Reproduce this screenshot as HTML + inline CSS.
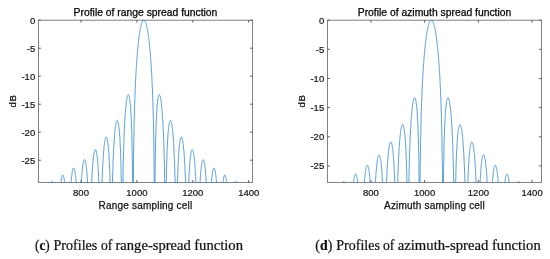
<!DOCTYPE html>
<html><head><meta charset="utf-8"><title>Spread function profiles</title>
<style>
html,body{margin:0;padding:0;background:#fff;}
svg{display:block}
.t{font-family:"Liberation Sans",Arial,sans-serif;font-size:9.5px;fill:#111;stroke:#111;stroke-width:0.2px}
.l{font-family:"Liberation Sans",Arial,sans-serif;font-size:10px;letter-spacing:0.2px;fill:#111;stroke:#111;stroke-width:0.25px}
.ti{font-family:"Liberation Sans",Arial,sans-serif;font-size:10.35px;fill:#000;stroke:#000;stroke-width:0.25px}
.c{font-family:"Liberation Serif","DejaVu Serif",serif;font-size:13.8px;fill:#111;stroke:#111;stroke-width:0.22px}
.c tspan{font-weight:bold}
</style></head><body>
<svg width="550" height="259" viewBox="0 0 550 259">
<rect width="550" height="259" fill="#fff"/>
<clipPath id="cp38"><rect x="38.5" y="19.2" width="214.0" height="163.7"/></clipPath>
<rect x="38.5" y="20.2" width="214.0" height="162.3" fill="none" stroke="#747474" stroke-width="0.9"/>
<text transform="translate(81.0,195.8) scale(1,1.04)" text-anchor="middle" class="t">800</text>
<text transform="translate(136.9,195.8) scale(1,1.04)" text-anchor="middle" class="t">1000</text>
<text transform="translate(192.8,195.8) scale(1,1.04)" text-anchor="middle" class="t">1200</text>
<text transform="translate(248.7,195.8) scale(1,1.04)" text-anchor="middle" class="t">1400</text>
<text transform="translate(35.2,23.7) scale(1,1.04)" text-anchor="end" class="t">0</text>
<text transform="translate(35.2,51.7) scale(1,1.04)" text-anchor="end" class="t">-5</text>
<text transform="translate(35.2,79.7) scale(1,1.04)" text-anchor="end" class="t">-10</text>
<text transform="translate(35.2,107.7) scale(1,1.04)" text-anchor="end" class="t">-15</text>
<text transform="translate(35.2,135.7) scale(1,1.04)" text-anchor="end" class="t">-20</text>
<text transform="translate(35.2,163.7) scale(1,1.04)" text-anchor="end" class="t">-25</text>
<path d="M81.0,182.5 v-2.3 M81.0,20.2 v2.3 M136.9,182.5 v-2.3 M136.9,20.2 v2.3 M192.8,182.5 v-2.3 M192.8,20.2 v2.3 M248.7,182.5 v-2.3 M248.7,20.2 v2.3 M38.5,20.2 h2.3 M252.5,20.2 h-2.3 M38.5,48.2 h2.3 M252.5,48.2 h-2.3 M38.5,76.2 h2.3 M252.5,76.2 h-2.3 M38.5,104.2 h2.3 M252.5,104.2 h-2.3 M38.5,132.2 h2.3 M252.5,132.2 h-2.3 M38.5,160.2 h2.3 M252.5,160.2 h-2.3" fill="none" stroke="#555" stroke-width="1"/>
<path d="M38.5,188.5 L38.6,188.5 L38.8,188.5 L38.9,188.5 L39.0,188.5 L39.1,188.5 L39.2,188.5 L39.4,188.5 L39.5,188.5 L39.6,188.5 L39.8,188.5 L39.9,188.5 L40.0,188.5 L40.1,188.5 L40.2,188.5 L40.4,188.1 L40.5,187.8 L40.6,187.5 L40.8,187.2 L40.9,187.1 L41.0,187.0 L41.1,187.0 L41.2,187.0 L41.4,187.1 L41.5,187.2 L41.6,187.5 L41.8,187.8 L41.9,188.1 L42.0,188.5 L42.1,188.5 L42.2,188.5 L42.4,188.5 L42.5,188.5 L42.6,188.5 L42.8,188.5 L42.9,188.5 L43.0,188.5 L43.1,188.5 L43.2,188.5 L43.4,188.5 L43.5,188.5 L43.6,188.5 L43.8,188.5 L43.9,188.5 L44.0,188.5 L44.1,188.5 L44.2,188.5 L44.4,188.5 L44.5,188.5 L44.6,188.5 L44.8,188.5 L44.9,188.5 L45.0,188.5 L45.1,188.5 L45.2,188.5 L45.4,188.5 L45.5,188.5 L45.6,188.5 L45.8,188.5 L45.9,188.5 L46.0,188.5 L46.1,188.5 L46.2,188.5 L46.4,188.5 L46.5,188.5 L46.6,188.5 L46.8,188.5 L46.9,188.5 L47.0,188.5 L47.1,188.5 L47.2,188.5 L47.4,188.5 L47.5,188.5 L47.6,188.5 L47.8,188.5 L47.9,188.5 L48.0,188.5 L48.1,188.5 L48.2,188.5 L48.4,188.5 L48.5,188.5 L48.6,188.5 L48.8,188.5 L48.9,188.5 L49.0,188.5 L49.1,188.5 L49.2,188.5 L49.4,188.5 L49.5,188.5 L49.6,188.5 L49.8,188.5 L49.9,188.5 L50.0,188.5 L50.1,188.5 L50.2,187.6 L50.4,186.7 L50.5,185.8 L50.6,185.1 L50.8,184.4 L50.9,183.8 L51.0,183.3 L51.1,182.8 L51.2,182.4 L51.4,182.1 L51.5,181.8 L51.6,181.6 L51.8,181.5 L51.9,181.4 L52.0,181.4 L52.1,181.4 L52.2,181.5 L52.4,181.7 L52.5,182.0 L52.6,182.3 L52.8,182.7 L52.9,183.1 L53.0,183.6 L53.1,184.2 L53.2,184.9 L53.4,185.6 L53.5,186.4 L53.6,187.3 L53.8,188.3 L53.9,188.5 L54.0,188.5 L54.1,188.5 L54.2,188.5 L54.4,188.5 L54.5,188.5 L54.6,188.5 L54.8,188.5 L54.9,188.5 L55.0,188.5 L55.1,188.5 L55.2,188.5 L55.4,188.5 L55.5,188.5 L55.6,188.5 L55.8,188.5 L55.9,188.5 L56.0,188.5 L56.1,188.5 L56.2,188.5 L56.4,188.5 L56.5,188.5 L56.6,188.5 L56.8,188.5 L56.9,188.5 L57.0,188.5 L57.1,188.5 L57.2,188.5 L57.4,188.5 L57.5,188.5 L57.6,188.5 L57.8,188.5 L57.9,188.5 L58.0,188.5 L58.1,188.5 L58.2,188.5 L58.4,188.5 L58.5,188.5 L58.6,188.5 L58.8,188.5 L58.9,188.5 L59.0,188.5 L59.1,188.5 L59.2,188.5 L59.4,188.5 L59.5,188.5 L59.6,188.5 L59.8,188.5 L59.9,188.5 L60.0,188.5 L60.1,188.5 L60.2,188.5 L60.4,188.0 L60.5,186.6 L60.6,185.3 L60.8,184.1 L60.9,183.0 L61.0,182.0 L61.1,181.0 L61.2,180.1 L61.4,179.3 L61.5,178.6 L61.6,178.0 L61.8,177.4 L61.9,176.9 L62.0,176.4 L62.1,176.0 L62.2,175.7 L62.4,175.5 L62.5,175.3 L62.6,175.2 L62.8,175.1 L62.9,175.1 L63.0,175.2 L63.1,175.3 L63.2,175.5 L63.4,175.8 L63.5,176.1 L63.6,176.5 L63.8,177.0 L63.9,177.5 L64.0,178.1 L64.1,178.8 L64.2,179.6 L64.4,180.5 L64.5,181.4 L64.6,182.4 L64.8,183.5 L64.9,184.7 L65.0,186.0 L65.1,187.4 L65.2,188.5 L65.4,188.5 L65.5,188.5 L65.6,188.5 L65.8,188.5 L65.9,188.5 L66.0,188.5 L66.1,188.5 L66.2,188.5 L66.4,188.5 L66.5,188.5 L66.6,188.5 L66.8,188.5 L66.9,188.5 L67.0,188.5 L67.1,188.5 L67.2,188.5 L67.4,188.5 L67.5,188.5 L67.6,188.5 L67.8,188.5 L67.9,188.5 L68.0,188.5 L68.1,188.5 L68.2,188.5 L68.4,188.5 L68.5,188.5 L68.6,188.5 L68.8,188.5 L68.9,188.5 L69.0,188.5 L69.1,188.5 L69.2,188.5 L69.4,188.5 L69.5,188.5 L69.6,188.5 L69.8,188.5 L69.9,188.5 L70.0,188.5 L70.1,188.5 L70.2,188.5 L70.4,188.5 L70.5,188.5 L70.6,188.5 L70.8,187.0 L70.9,185.2 L71.0,183.5 L71.1,181.9 L71.2,180.5 L71.4,179.1 L71.5,177.8 L71.6,176.6 L71.8,175.6 L71.9,174.5 L72.0,173.6 L72.1,172.8 L72.2,172.0 L72.4,171.3 L72.5,170.7 L72.6,170.1 L72.8,169.6 L72.9,169.2 L73.0,168.8 L73.1,168.5 L73.2,168.3 L73.4,168.1 L73.5,168.0 L73.6,168.0 L73.8,168.0 L73.9,168.1 L74.0,168.2 L74.1,168.4 L74.2,168.7 L74.4,169.1 L74.5,169.5 L74.6,170.0 L74.8,170.5 L74.9,171.2 L75.0,171.9 L75.1,172.7 L75.2,173.6 L75.4,174.5 L75.5,175.6 L75.6,176.7 L75.8,177.9 L75.9,179.3 L76.0,180.7 L76.1,182.3 L76.2,184.0 L76.4,185.8 L76.5,187.7 L76.6,188.5 L76.8,188.5 L76.9,188.5 L77.0,188.5 L77.1,188.5 L77.2,188.5 L77.4,188.5 L77.5,188.5 L77.6,188.5 L77.8,188.5 L77.9,188.5 L78.0,188.5 L78.1,188.5 L78.2,188.5 L78.4,188.5 L78.5,188.5 L78.6,188.5 L78.8,188.5 L78.9,188.5 L79.0,188.5 L79.1,188.5 L79.2,188.5 L79.4,188.5 L79.5,188.5 L79.6,188.5 L79.8,188.5 L79.9,188.5 L80.0,188.5 L80.1,188.5 L80.2,188.5 L80.4,188.5 L80.5,188.5 L80.6,188.5 L80.8,188.5 L80.9,188.5 L81.0,188.5 L81.1,186.6 L81.2,184.3 L81.4,182.1 L81.5,180.1 L81.6,178.2 L81.8,176.4 L81.9,174.8 L82.0,173.2 L82.1,171.8 L82.2,170.5 L82.4,169.2 L82.5,168.1 L82.6,167.0 L82.8,166.0 L82.9,165.1 L83.0,164.3 L83.1,163.5 L83.2,162.8 L83.4,162.2 L83.5,161.7 L83.6,161.2 L83.8,160.8 L83.9,160.4 L84.0,160.1 L84.1,159.9 L84.2,159.8 L84.4,159.7 L84.5,159.6 L84.6,159.7 L84.8,159.8 L84.9,159.9 L85.0,160.2 L85.1,160.5 L85.2,160.8 L85.4,161.3 L85.5,161.8 L85.6,162.4 L85.8,163.0 L85.9,163.7 L86.0,164.5 L86.1,165.4 L86.2,166.4 L86.4,167.5 L86.5,168.6 L86.6,169.9 L86.8,171.3 L86.9,172.7 L87.0,174.3 L87.1,176.1 L87.2,177.9 L87.4,180.0 L87.5,182.1 L87.6,184.5 L87.8,187.1 L87.9,188.5 L88.0,188.5 L88.1,188.5 L88.2,188.5 L88.4,188.5 L88.5,188.5 L88.6,188.5 L88.8,188.5 L88.9,188.5 L89.0,188.5 L89.1,188.5 L89.2,188.5 L89.4,188.5 L89.5,188.5 L89.6,188.5 L89.8,188.5 L89.9,188.5 L90.0,188.5 L90.1,188.5 L90.2,188.5 L90.4,188.5 L90.5,188.5 L90.6,188.5 L90.8,188.5 L90.9,188.5 L91.0,188.5 L91.1,188.5 L91.2,188.5 L91.4,188.5 L91.5,187.1 L91.6,184.1 L91.8,181.2 L91.9,178.6 L92.0,176.2 L92.1,173.9 L92.2,171.8 L92.4,169.8 L92.5,167.9 L92.6,166.2 L92.8,164.6 L92.9,163.1 L93.0,161.7 L93.1,160.3 L93.2,159.1 L93.4,158.0 L93.5,156.9 L93.6,155.9 L93.8,155.1 L93.9,154.2 L94.0,153.5 L94.1,152.8 L94.2,152.2 L94.4,151.7 L94.5,151.2 L94.6,150.8 L94.8,150.4 L94.9,150.1 L95.0,149.9 L95.1,149.8 L95.2,149.7 L95.4,149.7 L95.5,149.7 L95.6,149.8 L95.8,150.0 L95.9,150.2 L96.0,150.5 L96.1,150.9 L96.2,151.3 L96.4,151.9 L96.5,152.4 L96.6,153.1 L96.8,153.8 L96.9,154.7 L97.0,155.6 L97.1,156.6 L97.2,157.6 L97.4,158.8 L97.5,160.1 L97.6,161.5 L97.8,163.0 L97.9,164.6 L98.0,166.4 L98.1,168.3 L98.2,170.4 L98.4,172.6 L98.5,175.0 L98.6,177.6 L98.8,180.5 L98.9,183.6 L99.0,187.1 L99.1,188.5 L99.2,188.5 L99.4,188.5 L99.5,188.5 L99.6,188.5 L99.8,188.5 L99.9,188.5 L100.0,188.5 L100.1,188.5 L100.2,188.5 L100.4,188.5 L100.5,188.5 L100.6,188.5 L100.8,188.5 L100.9,188.5 L101.0,188.5 L101.1,188.5 L101.2,188.5 L101.4,188.5 L101.5,188.5 L101.6,188.5 L101.8,188.5 L101.9,188.5 L102.0,184.9 L102.1,181.0 L102.2,177.5 L102.4,174.3 L102.5,171.3 L102.6,168.5 L102.8,166.0 L102.9,163.6 L103.0,161.3 L103.1,159.2 L103.2,157.3 L103.4,155.4 L103.5,153.7 L103.6,152.1 L103.8,150.6 L103.9,149.2 L104.0,147.9 L104.1,146.7 L104.2,145.6 L104.4,144.5 L104.5,143.5 L104.6,142.7 L104.8,141.8 L104.9,141.1 L105.0,140.4 L105.1,139.8 L105.2,139.2 L105.4,138.8 L105.5,138.3 L105.6,138.0 L105.8,137.7 L105.9,137.5 L106.0,137.3 L106.1,137.2 L106.2,137.2 L106.4,137.2 L106.5,137.3 L106.6,137.5 L106.8,137.7 L106.9,138.0 L107.0,138.4 L107.1,138.8 L107.2,139.3 L107.4,139.9 L107.5,140.6 L107.6,141.3 L107.8,142.1 L107.9,143.0 L108.0,144.0 L108.1,145.1 L108.2,146.3 L108.4,147.6 L108.5,149.0 L108.6,150.5 L108.8,152.1 L108.9,153.9 L109.0,155.8 L109.1,157.9 L109.2,160.2 L109.4,162.7 L109.5,165.4 L109.6,168.3 L109.8,171.5 L109.9,175.0 L110.0,179.0 L110.1,183.3 L110.2,188.2 L110.4,188.5 L110.5,188.5 L110.6,188.5 L110.8,188.5 L110.9,188.5 L111.0,188.5 L111.1,188.5 L111.2,188.5 L111.4,188.5 L111.5,188.5 L111.6,188.5 L111.8,188.5 L111.9,188.5 L112.0,188.5 L112.1,188.5 L112.2,188.5 L112.4,187.4 L112.5,181.9 L112.6,176.9 L112.8,172.4 L112.9,168.4 L113.0,164.6 L113.1,161.2 L113.2,158.0 L113.4,155.1 L113.5,152.4 L113.6,149.8 L113.8,147.4 L113.9,145.2 L114.0,143.1 L114.1,141.2 L114.2,139.3 L114.4,137.6 L114.5,136.0 L114.6,134.5 L114.8,133.1 L114.9,131.8 L115.0,130.5 L115.1,129.4 L115.2,128.3 L115.4,127.3 L115.5,126.4 L115.6,125.5 L115.8,124.7 L115.9,124.0 L116.0,123.4 L116.1,122.8 L116.2,122.3 L116.4,121.8 L116.5,121.4 L116.6,121.1 L116.8,120.9 L116.9,120.7 L117.0,120.5 L117.1,120.5 L117.2,120.5 L117.4,120.5 L117.5,120.7 L117.6,120.8 L117.8,121.1 L117.9,121.4 L118.0,121.8 L118.1,122.3 L118.2,122.8 L118.4,123.5 L118.5,124.2 L118.6,124.9 L118.8,125.8 L118.9,126.8 L119.0,127.8 L119.1,129.0 L119.2,130.2 L119.4,131.6 L119.5,133.1 L119.6,134.7 L119.8,136.5 L119.9,138.4 L120.0,140.5 L120.1,142.8 L120.2,145.3 L120.4,148.0 L120.5,151.0 L120.6,154.2 L120.8,157.8 L120.9,161.8 L121.0,166.3 L121.1,171.4 L121.2,177.3 L121.4,184.0 L121.5,188.5 L121.6,188.5 L121.8,188.5 L121.9,188.5 L122.0,188.5 L122.1,188.5 L122.2,188.5 L122.4,188.5 L122.5,188.5 L122.6,188.5 L122.8,188.5 L122.9,185.1 L123.0,177.1 L123.1,170.2 L123.2,164.2 L123.4,158.8 L123.5,154.0 L123.6,149.6 L123.8,145.5 L123.9,141.8 L124.0,138.4 L124.1,135.2 L124.2,132.3 L124.4,129.5 L124.5,126.9 L124.6,124.5 L124.8,122.2 L124.9,120.1 L125.0,118.1 L125.1,116.2 L125.2,114.4 L125.4,112.7 L125.5,111.1 L125.6,109.6 L125.8,108.2 L125.9,106.9 L126.0,105.6 L126.1,104.4 L126.2,103.3 L126.4,102.3 L126.5,101.4 L126.6,100.5 L126.8,99.7 L126.9,98.9 L127.0,98.2 L127.1,97.6 L127.2,97.0 L127.4,96.5 L127.5,96.1 L127.6,95.7 L127.8,95.4 L127.9,95.1 L128.0,94.9 L128.1,94.8 L128.2,94.7 L128.4,94.7 L128.5,94.8 L128.6,94.9 L128.8,95.1 L128.9,95.3 L129.0,95.7 L129.1,96.1 L129.2,96.5 L129.4,97.1 L129.5,97.7 L129.6,98.5 L129.8,99.3 L129.9,100.2 L130.0,101.2 L130.1,102.3 L130.2,103.5 L130.4,104.9 L130.5,106.4 L130.6,108.0 L130.8,109.8 L130.9,111.7 L131.0,113.9 L131.1,116.2 L131.2,118.8 L131.4,121.7 L131.5,124.9 L131.6,128.4 L131.8,132.4 L131.9,136.9 L132.0,142.1 L132.1,148.0 L132.2,155.1 L132.4,163.6 L132.5,174.2 L132.6,188.2 L132.8,188.5 L132.9,188.5 L133.0,188.5 L133.1,188.5 L133.2,188.5 L133.4,179.7 L133.5,165.8 L133.6,154.8 L133.8,145.7 L133.9,137.9 L134.0,131.1 L134.1,125.1 L134.2,119.6 L134.4,114.6 L134.5,110.0 L134.6,105.8 L134.8,101.9 L134.9,98.2 L135.0,94.7 L135.1,91.5 L135.2,88.4 L135.4,85.5 L135.5,82.7 L135.6,80.1 L135.8,77.6 L135.9,75.2 L136.0,72.9 L136.1,70.7 L136.2,68.6 L136.4,66.5 L136.5,64.6 L136.6,62.7 L136.8,60.9 L136.9,59.1 L137.0,57.5 L137.1,55.8 L137.2,54.3 L137.4,52.8 L137.5,51.3 L137.6,49.9 L137.8,48.5 L137.9,47.2 L138.0,46.0 L138.1,44.7 L138.2,43.5 L138.4,42.4 L138.5,41.3 L138.6,40.2 L138.8,39.2 L138.9,38.2 L139.0,37.2 L139.1,36.3 L139.2,35.3 L139.4,34.5 L139.5,33.6 L139.6,32.8 L139.8,32.0 L139.9,31.3 L140.0,30.6 L140.1,29.9 L140.2,29.2 L140.4,28.6 L140.5,27.9 L140.6,27.3 L140.8,26.8 L140.9,26.2 L141.0,25.7 L141.1,25.2 L141.2,24.8 L141.4,24.3 L141.5,23.9 L141.6,23.5 L141.8,23.1 L141.9,22.8 L142.0,22.5 L142.1,22.2 L142.2,21.9 L142.4,21.6 L142.5,21.4 L142.6,21.2 L142.8,21.0 L142.9,20.8 L143.0,20.7 L143.1,20.5 L143.2,20.4 L143.4,20.3 L143.5,20.3 L143.6,20.2 L143.8,20.2 L143.9,20.2 L144.0,20.2 L144.1,20.3 L144.2,20.3 L144.4,20.4 L144.5,20.5 L144.6,20.7 L144.8,20.8 L144.9,21.0 L145.0,21.2 L145.1,21.4 L145.2,21.7 L145.4,21.9 L145.5,22.2 L145.6,22.5 L145.8,22.9 L145.9,23.2 L146.0,23.6 L146.1,24.0 L146.2,24.4 L146.4,24.9 L146.5,25.3 L146.6,25.8 L146.8,26.3 L146.9,26.9 L147.0,27.5 L147.1,28.1 L147.2,28.7 L147.4,29.3 L147.5,30.0 L147.6,30.7 L147.8,31.4 L147.9,32.2 L148.0,33.0 L148.1,33.8 L148.2,34.6 L148.4,35.5 L148.5,36.4 L148.6,37.4 L148.8,38.4 L148.9,39.4 L149.0,40.4 L149.1,41.5 L149.2,42.6 L149.4,43.8 L149.5,45.0 L149.6,46.2 L149.8,47.5 L149.9,48.8 L150.0,50.2 L150.1,51.6 L150.2,53.1 L150.4,54.6 L150.5,56.2 L150.6,57.8 L150.8,59.5 L150.9,61.2 L151.0,63.1 L151.1,65.0 L151.2,66.9 L151.4,69.0 L151.5,71.1 L151.6,73.3 L151.8,75.6 L151.9,78.1 L152.0,80.6 L152.1,83.3 L152.2,86.1 L152.4,89.0 L152.5,92.1 L152.6,95.4 L152.8,98.9 L152.9,102.6 L153.0,106.6 L153.1,110.9 L153.2,115.6 L153.4,120.6 L153.5,126.2 L153.6,132.4 L153.8,139.4 L153.9,147.4 L154.0,156.8 L154.1,168.3 L154.2,183.0 L154.4,188.5 L154.5,188.5 L154.6,188.5 L154.8,188.5 L154.9,188.5 L155.0,185.0 L155.1,171.8 L155.2,161.7 L155.4,153.6 L155.5,146.8 L155.6,141.0 L155.8,136.0 L155.9,131.6 L156.0,127.7 L156.1,124.2 L156.2,121.1 L156.4,118.3 L156.5,115.8 L156.6,113.4 L156.8,111.3 L156.9,109.4 L157.0,107.7 L157.1,106.1 L157.2,104.6 L157.4,103.3 L157.5,102.1 L157.6,101.0 L157.8,100.0 L157.9,99.1 L158.0,98.3 L158.1,97.6 L158.2,97.0 L158.4,96.4 L158.5,96.0 L158.6,95.6 L158.8,95.3 L158.9,95.0 L159.0,94.9 L159.1,94.7 L159.2,94.7 L159.4,94.7 L159.5,94.8 L159.6,95.0 L159.8,95.2 L159.9,95.4 L160.0,95.8 L160.1,96.2 L160.2,96.6 L160.4,97.1 L160.5,97.7 L160.6,98.3 L160.8,99.0 L160.9,99.8 L161.0,100.6 L161.1,101.5 L161.2,102.5 L161.4,103.6 L161.5,104.7 L161.6,105.9 L161.8,107.1 L161.9,108.5 L162.0,109.9 L162.1,111.4 L162.2,113.0 L162.4,114.7 L162.5,116.5 L162.6,118.5 L162.8,120.5 L162.9,122.7 L163.0,125.0 L163.1,127.4 L163.2,130.1 L163.4,132.9 L163.5,135.9 L163.6,139.1 L163.8,142.5 L163.9,146.3 L164.0,150.4 L164.1,154.9 L164.2,159.8 L164.4,165.3 L164.5,171.5 L164.6,178.6 L164.8,186.9 L164.9,188.5 L165.0,188.5 L165.1,188.5 L165.2,188.5 L165.4,188.5 L165.5,188.5 L165.6,188.5 L165.8,188.5 L165.9,188.5 L166.0,188.5 L166.1,188.5 L166.2,182.6 L166.4,176.0 L166.5,170.4 L166.6,165.4 L166.8,161.0 L166.9,157.1 L167.0,153.5 L167.1,150.3 L167.2,147.4 L167.4,144.8 L167.5,142.3 L167.6,140.1 L167.8,138.0 L167.9,136.1 L168.0,134.4 L168.1,132.8 L168.2,131.3 L168.4,130.0 L168.5,128.7 L168.6,127.6 L168.8,126.6 L168.9,125.6 L169.0,124.8 L169.1,124.0 L169.2,123.3 L169.4,122.7 L169.5,122.2 L169.6,121.7 L169.8,121.4 L169.9,121.0 L170.0,120.8 L170.1,120.6 L170.2,120.5 L170.4,120.5 L170.5,120.5 L170.6,120.6 L170.8,120.7 L170.9,120.9 L171.0,121.2 L171.1,121.5 L171.2,121.9 L171.4,122.4 L171.5,122.9 L171.6,123.5 L171.8,124.2 L171.9,124.9 L172.0,125.7 L172.1,126.5 L172.2,127.5 L172.4,128.5 L172.5,129.6 L172.6,130.8 L172.8,132.0 L172.9,133.4 L173.0,134.8 L173.1,136.3 L173.2,138.0 L173.4,139.7 L173.5,141.6 L173.6,143.5 L173.8,145.6 L173.9,147.9 L174.0,150.3 L174.1,152.9 L174.2,155.7 L174.4,158.7 L174.5,161.9 L174.6,165.4 L174.8,169.2 L174.9,173.3 L175.0,177.9 L175.1,183.0 L175.2,188.5 L175.4,188.5 L175.5,188.5 L175.6,188.5 L175.8,188.5 L175.9,188.5 L176.0,188.5 L176.1,188.5 L176.2,188.5 L176.4,188.5 L176.5,188.5 L176.6,188.5 L176.8,188.5 L176.9,188.5 L177.0,188.5 L177.1,188.5 L177.2,188.5 L177.4,187.2 L177.5,182.4 L177.6,178.1 L177.8,174.3 L177.9,170.8 L178.0,167.7 L178.1,164.8 L178.2,162.2 L178.4,159.7 L178.5,157.5 L178.6,155.4 L178.8,153.5 L178.9,151.8 L179.0,150.2 L179.1,148.7 L179.2,147.3 L179.4,146.0 L179.5,144.9 L179.6,143.8 L179.8,142.8 L179.9,141.9 L180.0,141.1 L180.1,140.4 L180.2,139.8 L180.4,139.2 L180.5,138.7 L180.6,138.3 L180.8,138.0 L180.9,137.7 L181.0,137.5 L181.1,137.3 L181.2,137.2 L181.4,137.2 L181.5,137.2 L181.6,137.4 L181.8,137.5 L181.9,137.8 L182.0,138.1 L182.1,138.4 L182.2,138.8 L182.4,139.3 L182.5,139.9 L182.6,140.5 L182.8,141.2 L182.9,142.0 L183.0,142.8 L183.1,143.7 L183.2,144.7 L183.4,145.8 L183.5,146.9 L183.6,148.2 L183.8,149.5 L183.9,150.9 L184.0,152.4 L184.1,154.1 L184.2,155.8 L184.4,157.7 L184.5,159.6 L184.6,161.8 L184.8,164.0 L184.9,166.5 L185.0,169.1 L185.1,171.9 L185.2,174.9 L185.4,178.2 L185.5,181.8 L185.6,185.7 L185.8,188.5 L185.9,188.5 L186.0,188.5 L186.1,188.5 L186.2,188.5 L186.4,188.5 L186.5,188.5 L186.6,188.5 L186.8,188.5 L186.9,188.5 L187.0,188.5 L187.1,188.5 L187.2,188.5 L187.4,188.5 L187.5,188.5 L187.6,188.5 L187.8,188.5 L187.9,188.5 L188.0,188.5 L188.1,188.5 L188.2,188.5 L188.4,188.5 L188.5,188.5 L188.6,186.3 L188.8,183.0 L188.9,179.9 L189.0,177.1 L189.1,174.5 L189.2,172.1 L189.4,169.9 L189.5,167.9 L189.6,166.0 L189.8,164.3 L189.9,162.7 L190.0,161.2 L190.1,159.8 L190.2,158.6 L190.4,157.4 L190.5,156.4 L190.6,155.4 L190.8,154.5 L190.9,153.7 L191.0,153.0 L191.1,152.3 L191.2,151.7 L191.4,151.2 L191.5,150.8 L191.6,150.5 L191.8,150.2 L191.9,149.9 L192.0,149.8 L192.1,149.7 L192.2,149.7 L192.4,149.7 L192.5,149.8 L192.6,150.0 L192.8,150.2 L192.9,150.5 L193.0,150.8 L193.1,151.3 L193.2,151.8 L193.4,152.3 L193.5,152.9 L193.6,153.6 L193.8,154.4 L193.9,155.2 L194.0,156.1 L194.1,157.1 L194.2,158.2 L194.4,159.4 L194.5,160.6 L194.6,161.9 L194.8,163.4 L194.9,164.9 L195.0,166.5 L195.1,168.3 L195.2,170.2 L195.4,172.2 L195.5,174.3 L195.6,176.6 L195.8,179.1 L195.9,181.8 L196.0,184.7 L196.1,187.8 L196.2,188.5 L196.4,188.5 L196.5,188.5 L196.6,188.5 L196.8,188.5 L196.9,188.5 L197.0,188.5 L197.1,188.5 L197.2,188.5 L197.4,188.5 L197.5,188.5 L197.6,188.5 L197.8,188.5 L197.9,188.5 L198.0,188.5 L198.1,188.5 L198.2,188.5 L198.4,188.5 L198.5,188.5 L198.6,188.5 L198.8,188.5 L198.9,188.5 L199.0,188.5 L199.1,188.5 L199.2,188.5 L199.4,188.5 L199.5,188.5 L199.6,188.5 L199.8,188.5 L199.9,186.5 L200.0,184.0 L200.1,181.7 L200.2,179.5 L200.4,177.6 L200.5,175.7 L200.6,174.0 L200.8,172.4 L200.9,171.0 L201.0,169.6 L201.1,168.4 L201.2,167.3 L201.4,166.2 L201.5,165.2 L201.6,164.4 L201.8,163.6 L201.9,162.9 L202.0,162.2 L202.1,161.7 L202.2,161.2 L202.4,160.8 L202.5,160.4 L202.6,160.1 L202.8,159.9 L202.9,159.8 L203.0,159.7 L203.1,159.6 L203.2,159.7 L203.4,159.8 L203.5,160.0 L203.6,160.2 L203.8,160.5 L203.9,160.9 L204.0,161.3 L204.1,161.8 L204.2,162.3 L204.4,163.0 L204.5,163.7 L204.6,164.4 L204.8,165.3 L204.9,166.2 L205.0,167.2 L205.1,168.3 L205.2,169.5 L205.4,170.7 L205.5,172.1 L205.6,173.5 L205.8,175.1 L205.9,176.8 L206.0,178.6 L206.1,180.5 L206.2,182.5 L206.4,184.7 L206.5,187.1 L206.6,188.5 L206.8,188.5 L206.9,188.5 L207.0,188.5 L207.1,188.5 L207.2,188.5 L207.4,188.5 L207.5,188.5 L207.6,188.5 L207.8,188.5 L207.9,188.5 L208.0,188.5 L208.1,188.5 L208.2,188.5 L208.4,188.5 L208.5,188.5 L208.6,188.5 L208.8,188.5 L208.9,188.5 L209.0,188.5 L209.1,188.5 L209.2,188.5 L209.4,188.5 L209.5,188.5 L209.6,188.5 L209.8,188.5 L209.9,188.5 L210.0,188.5 L210.1,188.5 L210.2,188.5 L210.4,188.5 L210.5,188.5 L210.6,188.5 L210.8,188.5 L210.9,188.5 L211.0,188.5 L211.1,187.3 L211.2,185.4 L211.4,183.6 L211.5,181.9 L211.6,180.4 L211.8,179.0 L211.9,177.7 L212.0,176.5 L212.1,175.3 L212.2,174.3 L212.4,173.4 L212.5,172.5 L212.6,171.7 L212.8,171.0 L212.9,170.4 L213.0,169.9 L213.1,169.4 L213.2,169.0 L213.4,168.7 L213.5,168.4 L213.6,168.2 L213.8,168.0 L213.9,168.0 L214.0,168.0 L214.1,168.0 L214.2,168.1 L214.4,168.3 L214.5,168.6 L214.6,168.9 L214.8,169.2 L214.9,169.7 L215.0,170.2 L215.1,170.8 L215.2,171.4 L215.4,172.1 L215.5,172.9 L215.6,173.8 L215.8,174.7 L215.9,175.8 L216.0,176.9 L216.1,178.1 L216.2,179.4 L216.4,180.7 L216.5,182.2 L216.6,183.8 L216.8,185.5 L216.9,187.4 L217.0,188.5 L217.1,188.5 L217.2,188.5 L217.4,188.5 L217.5,188.5 L217.6,188.5 L217.8,188.5 L217.9,188.5 L218.0,188.5 L218.1,188.5 L218.2,188.5 L218.4,188.5 L218.5,188.5 L218.6,188.5 L218.8,188.5 L218.9,188.5 L219.0,188.5 L219.1,188.5 L219.2,188.5 L219.4,188.5 L219.5,188.5 L219.6,188.5 L219.8,188.5 L219.9,188.5 L220.0,188.5 L220.1,188.5 L220.2,188.5 L220.4,188.5 L220.5,188.5 L220.6,188.5 L220.8,188.5 L220.9,188.5 L221.0,188.5 L221.1,188.5 L221.2,188.5 L221.4,188.5 L221.5,188.5 L221.6,188.5 L221.8,188.5 L221.9,188.5 L222.0,188.5 L222.1,188.5 L222.2,188.5 L222.4,188.5 L222.5,187.1 L222.6,185.7 L222.8,184.5 L222.9,183.3 L223.0,182.2 L223.1,181.2 L223.2,180.3 L223.4,179.4 L223.5,178.7 L223.6,178.0 L223.8,177.4 L223.9,176.9 L224.0,176.4 L224.1,176.0 L224.2,175.7 L224.4,175.5 L224.5,175.3 L224.6,175.2 L224.8,175.1 L224.9,175.1 L225.0,175.2 L225.1,175.3 L225.2,175.5 L225.4,175.8 L225.5,176.1 L225.6,176.5 L225.8,177.0 L225.9,177.5 L226.0,178.1 L226.1,178.8 L226.2,179.5 L226.4,180.3 L226.5,181.2 L226.6,182.2 L226.8,183.2 L226.9,184.3 L227.0,185.6 L227.1,186.9 L227.2,188.3 L227.4,188.5 L227.5,188.5 L227.6,188.5 L227.8,188.5 L227.9,188.5 L228.0,188.5 L228.1,188.5 L228.2,188.5 L228.4,188.5 L228.5,188.5 L228.6,188.5 L228.8,188.5 L228.9,188.5 L229.0,188.5 L229.1,188.5 L229.2,188.5 L229.4,188.5 L229.5,188.5 L229.6,188.5 L229.8,188.5 L229.9,188.5 L230.0,188.5 L230.1,188.5 L230.2,188.5 L230.4,188.5 L230.5,188.5 L230.6,188.5 L230.8,188.5 L230.9,188.5 L231.0,188.5 L231.1,188.5 L231.2,188.5 L231.4,188.5 L231.5,188.5 L231.6,188.5 L231.8,188.5 L231.9,188.5 L232.0,188.5 L232.1,188.5 L232.2,188.5 L232.4,188.5 L232.5,188.5 L232.6,188.5 L232.8,188.5 L232.9,188.5 L233.0,188.5 L233.1,188.5 L233.2,188.5 L233.4,188.5 L233.5,188.5 L233.6,188.5 L233.8,188.5 L233.9,188.1 L234.0,187.2 L234.1,186.3 L234.2,185.5 L234.4,184.7 L234.5,184.1 L234.6,183.5 L234.8,183.0 L234.9,182.6 L235.0,182.2 L235.1,181.9 L235.2,181.7 L235.4,181.5 L235.5,181.4 L235.6,181.4 L235.8,181.4 L235.9,181.5 L236.0,181.6 L236.1,181.9 L236.2,182.1 L236.4,182.5 L236.5,182.9 L236.6,183.4 L236.8,183.9 L236.9,184.5 L237.0,185.2 L237.1,186.0 L237.2,186.8 L237.4,187.8 L237.5,188.5 L237.6,188.5 L237.8,188.5 L237.9,188.5 L238.0,188.5 L238.1,188.5 L238.2,188.5 L238.4,188.5 L238.5,188.5 L238.6,188.5 L238.8,188.5 L238.9,188.5 L239.0,188.5 L239.1,188.5 L239.2,188.5 L239.4,188.5 L239.5,188.5 L239.6,188.5 L239.8,188.5 L239.9,188.5 L240.0,188.5 L240.1,188.5 L240.2,188.5 L240.4,188.5 L240.5,188.5 L240.6,188.5 L240.8,188.5 L240.9,188.5 L241.0,188.5 L241.1,188.5 L241.2,188.5 L241.4,188.5 L241.5,188.5 L241.6,188.5 L241.8,188.5 L241.9,188.5 L242.0,188.5 L242.1,188.5 L242.2,188.5 L242.4,188.5 L242.5,188.5 L242.6,188.5 L242.8,188.5 L242.9,188.5 L243.0,188.5 L243.1,188.5 L243.2,188.5 L243.4,188.5 L243.5,188.5 L243.6,188.5 L243.8,188.5 L243.9,188.5 L244.0,188.5 L244.1,188.5 L244.2,188.5 L244.4,188.5 L244.5,188.5 L244.6,188.5 L244.8,188.5 L244.9,188.5 L245.0,188.5 L245.1,188.5 L245.2,188.5 L245.4,188.5 L245.5,188.5 L245.6,188.4 L245.8,188.0 L245.9,187.7 L246.0,187.4 L246.1,187.2 L246.2,187.1 L246.4,187.0 L246.5,187.0 L246.6,187.0 L246.8,187.1 L246.9,187.3 L247.0,187.5 L247.1,187.8 L247.2,188.2 L247.4,188.5 L247.5,188.5 L247.6,188.5 L247.8,188.5 L247.9,188.5 L248.0,188.5 L248.1,188.5 L248.2,188.5 L248.4,188.5 L248.5,188.5 L248.6,188.5 L248.8,188.5 L248.9,188.5 L249.0,188.5 L249.1,188.5 L249.2,188.5 L249.4,188.5 L249.5,188.5 L249.6,188.5 L249.8,188.5 L249.9,188.5 L250.0,188.5 L250.1,188.5 L250.2,188.5 L250.4,188.5 L250.5,188.5 L250.6,188.5 L250.8,188.5 L250.9,188.5 L251.0,188.5 L251.1,188.5 L251.2,188.5 L251.4,188.5 L251.5,188.5 L251.6,188.5 L251.8,188.5 L251.9,188.5 L252.0,188.5 L252.1,188.5 L252.2,188.5 L252.4,188.5 L252.5,188.5" clip-path="url(#cp38)" fill="none" stroke="#2f88cf" stroke-width="0.8" stroke-linejoin="round"/>
<text x="145.5" y="15.6" text-anchor="middle" class="ti">Profile of range spread function</text>
<text x="145.5" y="209.1" text-anchor="middle" class="l">Range sampling cell</text>
<text transform="translate(16.4,101.0) rotate(-90)" text-anchor="middle" class="l" style="font-size:9.6px;letter-spacing:0.7px">dB</text>
<clipPath id="cp327"><rect x="327.5" y="19.2" width="214.0" height="163.6"/></clipPath>
<rect x="327.5" y="20.2" width="214.0" height="162.2" fill="none" stroke="#747474" stroke-width="0.9"/>
<text transform="translate(370.9,195.7) scale(1,1.04)" text-anchor="middle" class="t">800</text>
<text transform="translate(424.6,195.7) scale(1,1.04)" text-anchor="middle" class="t">1000</text>
<text transform="translate(478.4,195.7) scale(1,1.04)" text-anchor="middle" class="t">1200</text>
<text transform="translate(532.1,195.7) scale(1,1.04)" text-anchor="middle" class="t">1400</text>
<text transform="translate(324.2,23.7) scale(1,1.04)" text-anchor="end" class="t">0</text>
<text transform="translate(324.2,52.8) scale(1,1.04)" text-anchor="end" class="t">-5</text>
<text transform="translate(324.2,82.0) scale(1,1.04)" text-anchor="end" class="t">-10</text>
<text transform="translate(324.2,111.1) scale(1,1.04)" text-anchor="end" class="t">-15</text>
<text transform="translate(324.2,140.3) scale(1,1.04)" text-anchor="end" class="t">-20</text>
<text transform="translate(324.2,169.4) scale(1,1.04)" text-anchor="end" class="t">-25</text>
<path d="M370.9,182.4 v-2.3 M370.9,20.2 v2.3 M424.6,182.4 v-2.3 M424.6,20.2 v2.3 M478.4,182.4 v-2.3 M478.4,20.2 v2.3 M532.1,182.4 v-2.3 M532.1,20.2 v2.3 M327.5,20.2 h2.3 M541.5,20.2 h-2.3 M327.5,49.3 h2.3 M541.5,49.3 h-2.3 M327.5,78.5 h2.3 M541.5,78.5 h-2.3 M327.5,107.6 h2.3 M541.5,107.6 h-2.3 M327.5,136.8 h2.3 M541.5,136.8 h-2.3 M327.5,165.9 h2.3 M541.5,165.9 h-2.3" fill="none" stroke="#555" stroke-width="1"/>
<path d="M327.5,188.4 L327.6,188.4 L327.8,188.4 L327.9,188.4 L328.0,188.4 L328.1,188.4 L328.2,188.4 L328.4,188.4 L328.5,188.4 L328.6,188.4 L328.8,188.4 L328.9,188.4 L329.0,188.4 L329.1,188.4 L329.2,188.4 L329.4,188.4 L329.5,188.4 L329.6,188.4 L329.8,188.4 L329.9,188.4 L330.0,188.4 L330.1,188.4 L330.2,188.4 L330.4,188.4 L330.5,188.4 L330.6,188.4 L330.8,188.4 L330.9,188.4 L331.0,188.4 L331.1,188.4 L331.2,188.4 L331.4,188.4 L331.5,188.4 L331.6,188.4 L331.8,188.4 L331.9,188.2 L332.0,188.0 L332.1,188.0 L332.2,187.9 L332.4,188.0 L332.5,188.0 L332.6,188.2 L332.8,188.4 L332.9,188.4 L333.0,188.4 L333.1,188.4 L333.2,188.4 L333.4,188.4 L333.5,188.4 L333.6,188.4 L333.8,188.4 L333.9,188.4 L334.0,188.4 L334.1,188.4 L334.2,188.4 L334.4,188.4 L334.5,188.4 L334.6,188.4 L334.8,188.4 L334.9,188.4 L335.0,188.4 L335.1,188.4 L335.2,188.4 L335.4,188.4 L335.5,188.4 L335.6,188.4 L335.8,188.4 L335.9,188.4 L336.0,188.4 L336.1,188.4 L336.2,188.4 L336.4,188.4 L336.5,188.4 L336.6,188.4 L336.8,188.4 L336.9,188.4 L337.0,188.4 L337.1,188.4 L337.2,188.4 L337.4,188.4 L337.5,188.4 L337.6,188.4 L337.8,188.4 L337.9,188.4 L338.0,188.4 L338.1,188.4 L338.2,188.4 L338.4,188.4 L338.5,188.4 L338.6,188.4 L338.8,188.4 L338.9,188.4 L339.0,188.4 L339.1,188.4 L339.2,188.4 L339.4,188.4 L339.5,188.4 L339.6,188.4 L339.8,188.4 L339.9,188.4 L340.0,188.4 L340.1,188.4 L340.2,188.4 L340.4,188.4 L340.5,188.4 L340.6,188.4 L340.8,188.4 L340.9,188.4 L341.0,188.4 L341.1,188.4 L341.2,188.4 L341.4,188.4 L341.5,188.4 L341.6,188.4 L341.8,188.4 L341.9,188.4 L342.0,188.4 L342.1,187.6 L342.2,186.7 L342.4,186.0 L342.5,185.2 L342.6,184.6 L342.8,184.0 L342.9,183.5 L343.0,183.0 L343.1,182.6 L343.2,182.3 L343.4,182.0 L343.5,181.8 L343.6,181.6 L343.8,181.5 L343.9,181.4 L344.0,181.4 L344.1,181.5 L344.2,181.6 L344.4,181.8 L344.5,182.0 L344.6,182.3 L344.8,182.6 L344.9,183.1 L345.0,183.5 L345.1,184.1 L345.2,184.7 L345.4,185.3 L345.5,186.1 L345.6,186.9 L345.8,187.8 L345.9,188.4 L346.0,188.4 L346.1,188.4 L346.2,188.4 L346.4,188.4 L346.5,188.4 L346.6,188.4 L346.8,188.4 L346.9,188.4 L347.0,188.4 L347.1,188.4 L347.2,188.4 L347.4,188.4 L347.5,188.4 L347.6,188.4 L347.8,188.4 L347.9,188.4 L348.0,188.4 L348.1,188.4 L348.2,188.4 L348.4,188.4 L348.5,188.4 L348.6,188.4 L348.8,188.4 L348.9,188.4 L349.0,188.4 L349.1,188.4 L349.2,188.4 L349.4,188.4 L349.5,188.4 L349.6,188.4 L349.8,188.4 L349.9,188.4 L350.0,188.4 L350.1,188.4 L350.2,188.4 L350.4,188.4 L350.5,188.4 L350.6,188.4 L350.8,188.4 L350.9,188.4 L351.0,188.4 L351.1,188.4 L351.2,188.4 L351.4,188.4 L351.5,188.4 L351.6,188.4 L351.8,188.4 L351.9,188.4 L352.0,188.4 L352.1,188.4 L352.2,188.4 L352.4,188.4 L352.5,188.4 L352.6,188.4 L352.8,188.4 L352.9,188.4 L353.0,187.5 L353.1,186.2 L353.2,184.9 L353.4,183.7 L353.5,182.6 L353.6,181.6 L353.8,180.6 L353.9,179.8 L354.0,178.9 L354.1,178.2 L354.2,177.5 L354.4,176.9 L354.5,176.3 L354.6,175.8 L354.8,175.4 L354.9,175.0 L355.0,174.7 L355.1,174.4 L355.2,174.2 L355.4,174.1 L355.5,174.0 L355.6,174.0 L355.8,174.0 L355.9,174.1 L356.0,174.2 L356.1,174.4 L356.2,174.7 L356.4,175.0 L356.5,175.4 L356.6,175.8 L356.8,176.3 L356.9,176.9 L357.0,177.5 L357.1,178.2 L357.2,179.0 L357.4,179.9 L357.5,180.8 L357.6,181.8 L357.8,182.9 L357.9,184.1 L358.0,185.3 L358.1,186.7 L358.2,188.1 L358.4,188.4 L358.5,188.4 L358.6,188.4 L358.8,188.4 L358.9,188.4 L359.0,188.4 L359.1,188.4 L359.2,188.4 L359.4,188.4 L359.5,188.4 L359.6,188.4 L359.8,188.4 L359.9,188.4 L360.0,188.4 L360.1,188.4 L360.2,188.4 L360.4,188.4 L360.5,188.4 L360.6,188.4 L360.8,188.4 L360.9,188.4 L361.0,188.4 L361.1,188.4 L361.2,188.4 L361.4,188.4 L361.5,188.4 L361.6,188.4 L361.8,188.4 L361.9,188.4 L362.0,188.4 L362.1,188.4 L362.2,188.4 L362.4,188.4 L362.5,188.4 L362.6,188.4 L362.8,188.4 L362.9,188.4 L363.0,188.4 L363.1,188.4 L363.2,188.4 L363.4,188.4 L363.5,188.4 L363.6,188.4 L363.8,188.4 L363.9,188.4 L364.0,188.2 L364.1,186.3 L364.2,184.5 L364.4,182.8 L364.5,181.2 L364.6,179.7 L364.8,178.3 L364.9,177.0 L365.0,175.8 L365.1,174.6 L365.2,173.6 L365.4,172.6 L365.5,171.6 L365.6,170.8 L365.8,170.0 L365.9,169.3 L366.0,168.6 L366.1,168.0 L366.2,167.5 L366.4,167.0 L366.5,166.6 L366.6,166.2 L366.8,165.9 L366.9,165.7 L367.0,165.5 L367.1,165.4 L367.2,165.3 L367.4,165.3 L367.5,165.4 L367.6,165.5 L367.8,165.6 L367.9,165.9 L368.0,166.1 L368.1,166.5 L368.2,166.9 L368.4,167.4 L368.5,167.9 L368.6,168.5 L368.8,169.1 L368.9,169.9 L369.0,170.7 L369.1,171.6 L369.2,172.5 L369.4,173.6 L369.5,174.7 L369.6,175.9 L369.8,177.2 L369.9,178.6 L370.0,180.1 L370.1,181.8 L370.2,183.5 L370.4,185.4 L370.5,187.4 L370.6,188.4 L370.8,188.4 L370.9,188.4 L371.0,188.4 L371.1,188.4 L371.2,188.4 L371.4,188.4 L371.5,188.4 L371.6,188.4 L371.8,188.4 L371.9,188.4 L372.0,188.4 L372.1,188.4 L372.2,188.4 L372.4,188.4 L372.5,188.4 L372.6,188.4 L372.8,188.4 L372.9,188.4 L373.0,188.4 L373.1,188.4 L373.2,188.4 L373.4,188.4 L373.5,188.4 L373.6,188.4 L373.8,188.4 L373.9,188.4 L374.0,188.4 L374.1,188.4 L374.2,188.4 L374.4,188.4 L374.5,188.4 L374.6,188.4 L374.8,188.4 L374.9,188.4 L375.0,188.4 L375.1,188.4 L375.2,186.0 L375.4,183.5 L375.5,181.3 L375.6,179.2 L375.8,177.2 L375.9,175.3 L376.0,173.5 L376.1,171.9 L376.2,170.3 L376.4,168.9 L376.5,167.5 L376.6,166.2 L376.8,165.0 L376.9,163.9 L377.0,162.9 L377.1,161.9 L377.2,161.0 L377.4,160.2 L377.5,159.4 L377.6,158.7 L377.8,158.1 L377.9,157.5 L378.0,157.0 L378.1,156.5 L378.2,156.1 L378.4,155.8 L378.5,155.5 L378.6,155.3 L378.8,155.1 L378.9,155.0 L379.0,154.9 L379.1,155.0 L379.2,155.0 L379.4,155.1 L379.5,155.3 L379.6,155.5 L379.8,155.8 L379.9,156.2 L380.0,156.6 L380.1,157.1 L380.2,157.7 L380.4,158.3 L380.5,159.0 L380.6,159.7 L380.8,160.6 L380.9,161.5 L381.0,162.4 L381.1,163.5 L381.2,164.7 L381.4,165.9 L381.5,167.3 L381.6,168.7 L381.8,170.3 L381.9,172.0 L382.0,173.8 L382.1,175.7 L382.2,177.8 L382.4,180.0 L382.5,182.5 L382.6,185.1 L382.8,187.9 L382.9,188.4 L383.0,188.4 L383.1,188.4 L383.2,188.4 L383.4,188.4 L383.5,188.4 L383.6,188.4 L383.8,188.4 L383.9,188.4 L384.0,188.4 L384.1,188.4 L384.2,188.4 L384.4,188.4 L384.5,188.4 L384.6,188.4 L384.8,188.4 L384.9,188.4 L385.0,188.4 L385.1,188.4 L385.2,188.4 L385.4,188.4 L385.5,188.4 L385.6,188.4 L385.8,188.4 L385.9,188.4 L386.0,188.4 L386.1,188.4 L386.2,188.4 L386.4,186.9 L386.5,183.6 L386.6,180.5 L386.8,177.6 L386.9,174.9 L387.0,172.4 L387.1,170.0 L387.2,167.8 L387.4,165.8 L387.5,163.8 L387.6,162.0 L387.8,160.3 L387.9,158.7 L388.0,157.1 L388.1,155.7 L388.2,154.4 L388.4,153.1 L388.5,151.9 L388.6,150.8 L388.8,149.8 L388.9,148.8 L389.0,148.0 L389.1,147.1 L389.2,146.4 L389.4,145.7 L389.5,145.1 L389.6,144.5 L389.8,144.0 L389.9,143.5 L390.0,143.1 L390.1,142.8 L390.2,142.5 L390.4,142.3 L390.5,142.1 L390.6,142.0 L390.8,142.0 L390.9,142.0 L391.0,142.0 L391.1,142.2 L391.2,142.3 L391.4,142.6 L391.5,142.9 L391.6,143.2 L391.8,143.7 L391.9,144.2 L392.0,144.7 L392.1,145.3 L392.2,146.0 L392.4,146.8 L392.5,147.6 L392.6,148.6 L392.8,149.6 L392.9,150.6 L393.0,151.8 L393.1,153.1 L393.2,154.5 L393.4,156.0 L393.5,157.6 L393.6,159.3 L393.8,161.1 L393.9,163.1 L394.0,165.3 L394.1,167.6 L394.2,170.1 L394.4,172.8 L394.5,175.8 L394.6,179.0 L394.8,182.5 L394.9,186.4 L395.0,188.4 L395.1,188.4 L395.2,188.4 L395.4,188.4 L395.5,188.4 L395.6,188.4 L395.8,188.4 L395.9,188.4 L396.0,188.4 L396.1,188.4 L396.2,188.4 L396.4,188.4 L396.5,188.4 L396.6,188.4 L396.8,188.4 L396.9,188.4 L397.0,188.4 L397.1,188.4 L397.2,188.4 L397.4,188.4 L397.5,188.4 L397.6,185.2 L397.8,180.7 L397.9,176.6 L398.0,172.8 L398.1,169.3 L398.2,166.1 L398.4,163.1 L398.5,160.3 L398.6,157.6 L398.8,155.2 L398.9,152.9 L399.0,150.7 L399.1,148.7 L399.2,146.7 L399.4,144.9 L399.5,143.2 L399.6,141.6 L399.8,140.1 L399.9,138.7 L400.0,137.3 L400.1,136.1 L400.2,134.9 L400.4,133.8 L400.5,132.7 L400.6,131.8 L400.8,130.9 L400.9,130.0 L401.0,129.3 L401.1,128.5 L401.2,127.9 L401.4,127.3 L401.5,126.8 L401.6,126.3 L401.8,125.9 L401.9,125.5 L402.0,125.2 L402.1,125.0 L402.2,124.8 L402.4,124.6 L402.5,124.6 L402.6,124.5 L402.8,124.6 L402.9,124.7 L403.0,124.8 L403.1,125.0 L403.2,125.3 L403.4,125.7 L403.5,126.1 L403.6,126.5 L403.8,127.0 L403.9,127.6 L404.0,128.3 L404.1,129.1 L404.2,129.9 L404.4,130.8 L404.5,131.8 L404.6,132.8 L404.8,134.0 L404.9,135.3 L405.0,136.6 L405.1,138.1 L405.2,139.7 L405.4,141.4 L405.5,143.3 L405.6,145.3 L405.8,147.5 L405.9,149.9 L406.0,152.4 L406.1,155.2 L406.2,158.3 L406.4,161.6 L406.5,165.3 L406.6,169.3 L406.8,173.8 L406.9,178.9 L407.0,184.7 L407.1,188.4 L407.2,188.4 L407.4,188.4 L407.5,188.4 L407.6,188.4 L407.8,188.4 L407.9,188.4 L408.0,188.4 L408.1,188.4 L408.2,188.4 L408.4,188.4 L408.5,188.4 L408.6,188.4 L408.8,188.4 L408.9,183.0 L409.0,176.4 L409.1,170.5 L409.2,165.2 L409.4,160.5 L409.5,156.1 L409.6,152.1 L409.8,148.5 L409.9,145.0 L410.0,141.8 L410.1,138.9 L410.2,136.1 L410.4,133.4 L410.5,131.0 L410.6,128.6 L410.8,126.4 L410.9,124.4 L411.0,122.4 L411.1,120.5 L411.2,118.8 L411.4,117.1 L411.5,115.6 L411.6,114.1 L411.8,112.7 L411.9,111.3 L412.0,110.1 L412.1,108.9 L412.2,107.8 L412.4,106.7 L412.5,105.7 L412.6,104.8 L412.8,103.9 L412.9,103.1 L413.0,102.4 L413.1,101.7 L413.2,101.0 L413.4,100.5 L413.5,99.9 L413.6,99.5 L413.8,99.1 L413.9,98.7 L414.0,98.4 L414.1,98.2 L414.2,98.0 L414.4,97.8 L414.5,97.8 L414.6,97.7 L414.8,97.8 L414.9,97.9 L415.0,98.0 L415.1,98.2 L415.2,98.5 L415.4,98.8 L415.5,99.3 L415.6,99.7 L415.8,100.3 L415.9,100.9 L416.0,101.6 L416.1,102.4 L416.2,103.2 L416.4,104.2 L416.5,105.2 L416.6,106.3 L416.8,107.6 L416.9,109.0 L417.0,110.4 L417.1,112.0 L417.2,113.8 L417.4,115.7 L417.5,117.8 L417.6,120.1 L417.8,122.6 L417.9,125.3 L418.0,128.3 L418.1,131.6 L418.2,135.3 L418.4,139.4 L418.5,144.0 L418.6,149.3 L418.8,155.4 L418.9,162.5 L419.0,171.1 L419.1,181.6 L419.2,188.4 L419.4,188.4 L419.5,188.4 L419.6,188.4 L419.8,188.4 L419.9,188.4 L420.0,188.4 L420.1,178.3 L420.2,166.4 L420.4,156.6 L420.5,148.3 L420.6,141.1 L420.8,134.7 L420.9,128.9 L421.0,123.6 L421.1,118.8 L421.2,114.4 L421.4,110.2 L421.5,106.4 L421.6,102.7 L421.8,99.3 L421.9,96.1 L422.0,93.0 L422.1,90.1 L422.2,87.4 L422.4,84.7 L422.5,82.2 L422.6,79.8 L422.8,77.5 L422.9,75.2 L423.0,73.1 L423.1,71.0 L423.2,69.1 L423.4,67.2 L423.5,65.3 L423.6,63.5 L423.8,61.8 L423.9,60.2 L424.0,58.6 L424.1,57.0 L424.2,55.5 L424.4,54.0 L424.5,52.6 L424.6,51.3 L424.8,50.0 L424.9,48.7 L425.0,47.4 L425.1,46.2 L425.2,45.1 L425.4,43.9 L425.5,42.8 L425.6,41.8 L425.8,40.8 L425.9,39.8 L426.0,38.8 L426.1,37.9 L426.2,37.0 L426.4,36.1 L426.5,35.2 L426.6,34.4 L426.8,33.6 L426.9,32.9 L427.0,32.1 L427.1,31.4 L427.2,30.7 L427.4,30.1 L427.5,29.4 L427.6,28.8 L427.8,28.2 L427.9,27.6 L428.0,27.1 L428.1,26.6 L428.2,26.1 L428.4,25.6 L428.5,25.1 L428.6,24.7 L428.8,24.3 L428.9,23.9 L429.0,23.5 L429.1,23.2 L429.2,22.8 L429.4,22.5 L429.5,22.2 L429.6,22.0 L429.8,21.7 L429.9,21.5 L430.0,21.3 L430.1,21.1 L430.2,20.9 L430.4,20.7 L430.5,20.6 L430.6,20.5 L430.8,20.4 L430.9,20.3 L431.0,20.3 L431.1,20.2 L431.2,20.2 L431.4,20.2 L431.5,20.2 L431.6,20.3 L431.8,20.3 L431.9,20.4 L432.0,20.5 L432.1,20.6 L432.2,20.8 L432.4,20.9 L432.5,21.1 L432.6,21.3 L432.8,21.5 L432.9,21.7 L433.0,22.0 L433.1,22.3 L433.2,22.6 L433.4,22.9 L433.5,23.2 L433.6,23.6 L433.8,24.0 L433.9,24.4 L434.0,24.8 L434.1,25.2 L434.2,25.7 L434.4,26.2 L434.5,26.7 L434.6,27.2 L434.8,27.8 L434.9,28.3 L435.0,28.9 L435.1,29.5 L435.2,30.2 L435.4,30.9 L435.5,31.5 L435.6,32.3 L435.8,33.0 L435.9,33.8 L436.0,34.6 L436.1,35.4 L436.2,36.3 L436.4,37.1 L436.5,38.0 L436.6,39.0 L436.8,40.0 L436.9,41.0 L437.0,42.0 L437.1,43.1 L437.2,44.2 L437.4,45.3 L437.5,46.5 L437.6,47.7 L437.8,48.9 L437.9,50.2 L438.0,51.5 L438.1,52.9 L438.2,54.3 L438.4,55.8 L438.5,57.3 L438.6,58.9 L438.8,60.5 L438.9,62.2 L439.0,63.9 L439.1,65.7 L439.2,67.5 L439.4,69.4 L439.5,71.4 L439.6,73.5 L439.8,75.7 L439.9,77.9 L440.0,80.2 L440.1,82.7 L440.2,85.2 L440.4,87.9 L440.5,90.7 L440.6,93.6 L440.8,96.7 L440.9,100.0 L441.0,103.4 L441.1,107.1 L441.2,111.0 L441.4,115.2 L441.5,119.7 L441.6,124.6 L441.8,130.0 L441.9,135.9 L442.0,142.5 L442.1,149.9 L442.2,158.5 L442.4,168.6 L442.5,181.0 L442.6,188.4 L442.8,188.4 L442.9,188.4 L443.0,188.4 L443.1,188.4 L443.2,188.4 L443.4,188.4 L443.5,179.3 L443.6,169.2 L443.8,161.0 L443.9,154.1 L444.0,148.2 L444.1,143.1 L444.2,138.5 L444.4,134.5 L444.5,130.9 L444.6,127.7 L444.8,124.7 L444.9,122.0 L445.0,119.6 L445.1,117.4 L445.2,115.3 L445.4,113.4 L445.5,111.7 L445.6,110.1 L445.8,108.7 L445.9,107.3 L446.0,106.1 L446.1,105.0 L446.2,104.0 L446.4,103.0 L446.5,102.2 L446.6,101.4 L446.8,100.8 L446.9,100.2 L447.0,99.6 L447.1,99.2 L447.2,98.8 L447.4,98.4 L447.5,98.2 L447.6,98.0 L447.8,97.8 L447.9,97.8 L448.0,97.7 L448.1,97.8 L448.2,97.9 L448.4,98.0 L448.5,98.2 L448.6,98.5 L448.8,98.8 L448.9,99.1 L449.0,99.6 L449.1,100.0 L449.2,100.6 L449.4,101.2 L449.5,101.8 L449.6,102.5 L449.8,103.3 L449.9,104.1 L450.0,105.0 L450.1,105.9 L450.2,106.9 L450.4,108.0 L450.5,109.1 L450.6,110.3 L450.8,111.6 L450.9,112.9 L451.0,114.4 L451.1,115.9 L451.2,117.5 L451.4,119.1 L451.5,120.9 L451.6,122.8 L451.8,124.8 L451.9,126.9 L452.0,129.1 L452.1,131.4 L452.2,133.9 L452.4,136.6 L452.5,139.4 L452.6,142.5 L452.8,145.7 L452.9,149.2 L453.0,152.9 L453.1,157.0 L453.2,161.4 L453.4,166.3 L453.5,171.6 L453.6,177.6 L453.8,184.4 L453.9,188.4 L454.0,188.4 L454.1,188.4 L454.2,188.4 L454.4,188.4 L454.5,188.4 L454.6,188.4 L454.8,188.4 L454.9,188.4 L455.0,188.4 L455.1,188.4 L455.2,188.4 L455.4,188.4 L455.5,188.4 L455.6,183.5 L455.8,177.9 L455.9,172.9 L456.0,168.5 L456.1,164.5 L456.2,160.9 L456.4,157.6 L456.5,154.6 L456.6,151.9 L456.8,149.4 L456.9,147.1 L457.0,144.9 L457.1,142.9 L457.2,141.1 L457.4,139.4 L457.5,137.8 L457.6,136.4 L457.8,135.0 L457.9,133.8 L458.0,132.6 L458.1,131.6 L458.2,130.6 L458.4,129.7 L458.5,128.9 L458.6,128.2 L458.8,127.5 L458.9,126.9 L459.0,126.4 L459.1,126.0 L459.2,125.6 L459.4,125.3 L459.5,125.0 L459.6,124.8 L459.8,124.7 L459.9,124.6 L460.0,124.5 L460.1,124.6 L460.2,124.7 L460.4,124.8 L460.5,125.0 L460.6,125.3 L460.8,125.6 L460.9,126.0 L461.0,126.4 L461.1,126.9 L461.2,127.4 L461.4,128.0 L461.5,128.7 L461.6,129.4 L461.8,130.2 L461.9,131.0 L462.0,132.0 L462.1,132.9 L462.2,134.0 L462.4,135.1 L462.5,136.3 L462.6,137.6 L462.8,139.0 L462.9,140.4 L463.0,141.9 L463.1,143.6 L463.2,145.3 L463.4,147.1 L463.5,149.1 L463.6,151.1 L463.8,153.3 L463.9,155.7 L464.0,158.1 L464.1,160.8 L464.2,163.7 L464.4,166.7 L464.5,170.0 L464.6,173.5 L464.8,177.4 L464.9,181.6 L465.0,186.1 L465.1,188.4 L465.2,188.4 L465.4,188.4 L465.5,188.4 L465.6,188.4 L465.8,188.4 L465.9,188.4 L466.0,188.4 L466.1,188.4 L466.2,188.4 L466.4,188.4 L466.5,188.4 L466.6,188.4 L466.8,188.4 L466.9,188.4 L467.0,188.4 L467.1,188.4 L467.2,188.4 L467.4,188.4 L467.5,188.4 L467.6,188.4 L467.8,185.6 L467.9,181.8 L468.0,178.3 L468.1,175.2 L468.2,172.3 L468.4,169.6 L468.5,167.1 L468.6,164.8 L468.8,162.7 L468.9,160.7 L469.0,158.9 L469.1,157.2 L469.2,155.7 L469.4,154.2 L469.5,152.8 L469.6,151.6 L469.8,150.4 L469.9,149.4 L470.0,148.4 L470.1,147.5 L470.2,146.6 L470.4,145.9 L470.5,145.2 L470.6,144.6 L470.8,144.1 L470.9,143.6 L471.0,143.2 L471.1,142.8 L471.2,142.5 L471.4,142.3 L471.5,142.1 L471.6,142.0 L471.8,142.0 L471.9,142.0 L472.0,142.0 L472.1,142.2 L472.2,142.3 L472.4,142.6 L472.5,142.9 L472.6,143.2 L472.8,143.6 L472.9,144.1 L473.0,144.6 L473.1,145.2 L473.2,145.8 L473.4,146.5 L473.5,147.3 L473.6,148.1 L473.8,149.0 L473.9,150.0 L474.0,151.0 L474.1,152.2 L474.2,153.4 L474.4,154.6 L474.5,156.0 L474.6,157.4 L474.8,159.0 L474.9,160.6 L475.0,162.3 L475.1,164.2 L475.2,166.2 L475.4,168.3 L475.5,170.5 L475.6,172.9 L475.8,175.4 L475.9,178.1 L476.0,181.1 L476.1,184.2 L476.2,187.6 L476.4,188.4 L476.5,188.4 L476.6,188.4 L476.8,188.4 L476.9,188.4 L477.0,188.4 L477.1,188.4 L477.2,188.4 L477.4,188.4 L477.5,188.4 L477.6,188.4 L477.8,188.4 L477.9,188.4 L478.0,188.4 L478.1,188.4 L478.2,188.4 L478.4,188.4 L478.5,188.4 L478.6,188.4 L478.8,188.4 L478.9,188.4 L479.0,188.4 L479.1,188.4 L479.2,188.4 L479.4,188.4 L479.5,188.4 L479.6,188.4 L479.8,188.4 L479.9,187.4 L480.0,184.6 L480.1,182.0 L480.2,179.6 L480.4,177.4 L480.5,175.3 L480.6,173.4 L480.8,171.6 L480.9,170.0 L481.0,168.4 L481.1,167.0 L481.2,165.7 L481.4,164.4 L481.5,163.3 L481.6,162.2 L481.8,161.3 L481.9,160.4 L482.0,159.6 L482.1,158.8 L482.2,158.2 L482.4,157.5 L482.5,157.0 L482.6,156.5 L482.8,156.1 L482.9,155.8 L483.0,155.5 L483.1,155.3 L483.2,155.1 L483.4,155.0 L483.5,154.9 L483.6,155.0 L483.8,155.0 L483.9,155.1 L484.0,155.3 L484.1,155.6 L484.2,155.8 L484.4,156.2 L484.5,156.6 L484.6,157.1 L484.8,157.6 L484.9,158.2 L485.0,158.8 L485.1,159.6 L485.2,160.3 L485.4,161.2 L485.5,162.1 L485.6,163.1 L485.8,164.1 L485.9,165.3 L486.0,166.5 L486.1,167.8 L486.2,169.2 L486.4,170.6 L486.5,172.2 L486.6,173.9 L486.8,175.7 L486.9,177.5 L487.0,179.6 L487.1,181.7 L487.2,184.0 L487.4,186.5 L487.5,188.4 L487.6,188.4 L487.8,188.4 L487.9,188.4 L488.0,188.4 L488.1,188.4 L488.2,188.4 L488.4,188.4 L488.5,188.4 L488.6,188.4 L488.8,188.4 L488.9,188.4 L489.0,188.4 L489.1,188.4 L489.2,188.4 L489.4,188.4 L489.5,188.4 L489.6,188.4 L489.8,188.4 L489.9,188.4 L490.0,188.4 L490.1,188.4 L490.2,188.4 L490.4,188.4 L490.5,188.4 L490.6,188.4 L490.8,188.4 L490.9,188.4 L491.0,188.4 L491.1,188.4 L491.2,188.4 L491.4,188.4 L491.5,188.4 L491.6,188.4 L491.8,188.4 L491.9,188.4 L492.0,188.4 L492.1,187.0 L492.2,185.0 L492.4,183.2 L492.5,181.4 L492.6,179.8 L492.8,178.3 L492.9,176.9 L493.0,175.7 L493.1,174.5 L493.2,173.4 L493.4,172.3 L493.5,171.4 L493.6,170.5 L493.8,169.7 L493.9,169.0 L494.0,168.4 L494.1,167.8 L494.2,167.3 L494.4,166.8 L494.5,166.4 L494.6,166.1 L494.8,165.8 L494.9,165.6 L495.0,165.4 L495.1,165.4 L495.2,165.3 L495.4,165.3 L495.5,165.4 L495.6,165.6 L495.8,165.7 L495.9,166.0 L496.0,166.3 L496.1,166.7 L496.2,167.1 L496.4,167.6 L496.5,168.1 L496.6,168.7 L496.8,169.4 L496.9,170.1 L497.0,170.9 L497.1,171.8 L497.2,172.7 L497.4,173.8 L497.5,174.8 L497.6,176.0 L497.8,177.3 L497.9,178.6 L498.0,180.0 L498.1,181.5 L498.2,183.1 L498.4,184.9 L498.5,186.7 L498.6,188.4 L498.8,188.4 L498.9,188.4 L499.0,188.4 L499.1,188.4 L499.2,188.4 L499.4,188.4 L499.5,188.4 L499.6,188.4 L499.8,188.4 L499.9,188.4 L500.0,188.4 L500.1,188.4 L500.2,188.4 L500.4,188.4 L500.5,188.4 L500.6,188.4 L500.8,188.4 L500.9,188.4 L501.0,188.4 L501.1,188.4 L501.2,188.4 L501.4,188.4 L501.5,188.4 L501.6,188.4 L501.8,188.4 L501.9,188.4 L502.0,188.4 L502.1,188.4 L502.2,188.4 L502.4,188.4 L502.5,188.4 L502.6,188.4 L502.8,188.4 L502.9,188.4 L503.0,188.4 L503.1,188.4 L503.2,188.4 L503.4,188.4 L503.5,188.4 L503.6,188.4 L503.8,188.4 L503.9,188.4 L504.0,188.4 L504.1,188.4 L504.2,188.4 L504.4,187.8 L504.5,186.4 L504.6,185.1 L504.8,183.8 L504.9,182.7 L505.0,181.6 L505.1,180.6 L505.2,179.7 L505.4,178.9 L505.5,178.1 L505.6,177.4 L505.8,176.8 L505.9,176.2 L506.0,175.7 L506.1,175.3 L506.2,174.9 L506.4,174.6 L506.5,174.4 L506.6,174.2 L506.8,174.1 L506.9,174.0 L507.0,174.0 L507.1,174.0 L507.2,174.1 L507.4,174.3 L507.5,174.5 L507.6,174.8 L507.8,175.1 L507.9,175.5 L508.0,175.9 L508.1,176.4 L508.2,177.0 L508.4,177.6 L508.5,178.3 L508.6,179.1 L508.8,179.9 L508.9,180.8 L509.0,181.8 L509.1,182.8 L509.2,184.0 L509.4,185.2 L509.5,186.5 L509.6,187.8 L509.8,188.4 L509.9,188.4 L510.0,188.4 L510.1,188.4 L510.2,188.4 L510.4,188.4 L510.5,188.4 L510.6,188.4 L510.8,188.4 L510.9,188.4 L511.0,188.4 L511.1,188.4 L511.2,188.4 L511.4,188.4 L511.5,188.4 L511.6,188.4 L511.8,188.4 L511.9,188.4 L512.0,188.4 L512.1,188.4 L512.2,188.4 L512.4,188.4 L512.5,188.4 L512.6,188.4 L512.8,188.4 L512.9,188.4 L513.0,188.4 L513.1,188.4 L513.2,188.4 L513.4,188.4 L513.5,188.4 L513.6,188.4 L513.8,188.4 L513.9,188.4 L514.0,188.4 L514.1,188.4 L514.2,188.4 L514.4,188.4 L514.5,188.4 L514.6,188.4 L514.8,188.4 L514.9,188.4 L515.0,188.4 L515.1,188.4 L515.2,188.4 L515.4,188.4 L515.5,188.4 L515.6,188.4 L515.8,188.4 L515.9,188.4 L516.0,188.4 L516.1,188.4 L516.2,188.4 L516.4,188.4 L516.5,188.4 L516.6,188.4 L516.8,188.4 L516.9,187.6 L517.0,186.7 L517.1,185.9 L517.2,185.2 L517.4,184.5 L517.5,184.0 L517.6,183.4 L517.8,183.0 L517.9,182.6 L518.0,182.2 L518.1,181.9 L518.2,181.7 L518.4,181.6 L518.5,181.5 L518.6,181.4 L518.8,181.4 L518.9,181.5 L519.0,181.6 L519.1,181.8 L519.2,182.0 L519.4,182.3 L519.5,182.7 L519.6,183.1 L519.8,183.6 L519.9,184.1 L520.0,184.7 L520.1,185.4 L520.2,186.1 L520.4,186.9 L520.5,187.8 L520.6,188.4 L520.8,188.4 L520.9,188.4 L521.0,188.4 L521.1,188.4 L521.2,188.4 L521.4,188.4 L521.5,188.4 L521.6,188.4 L521.8,188.4 L521.9,188.4 L522.0,188.4 L522.1,188.4 L522.2,188.4 L522.4,188.4 L522.5,188.4 L522.6,188.4 L522.8,188.4 L522.9,188.4 L523.0,188.4 L523.1,188.4 L523.2,188.4 L523.4,188.4 L523.5,188.4 L523.6,188.4 L523.8,188.4 L523.9,188.4 L524.0,188.4 L524.1,188.4 L524.2,188.4 L524.4,188.4 L524.5,188.4 L524.6,188.4 L524.8,188.4 L524.9,188.4 L525.0,188.4 L525.1,188.4 L525.2,188.4 L525.4,188.4 L525.5,188.4 L525.6,188.4 L525.8,188.4 L525.9,188.4 L526.0,188.4 L526.1,188.4 L526.2,188.4 L526.4,188.4 L526.5,188.4 L526.6,188.4 L526.8,188.4 L526.9,188.4 L527.0,188.4 L527.1,188.4 L527.2,188.4 L527.4,188.4 L527.5,188.4 L527.6,188.4 L527.8,188.4 L527.9,188.4 L528.0,188.4 L528.1,188.4 L528.2,188.4 L528.4,188.4 L528.5,188.4 L528.6,188.4 L528.8,188.4 L528.9,188.4 L529.0,188.4 L529.1,188.4 L529.2,188.4 L529.4,188.4 L529.5,188.4 L529.6,188.4 L529.8,188.4 L529.9,188.3 L530.0,188.2 L530.1,188.0 L530.2,187.9 L530.4,187.9 L530.5,188.0 L530.6,188.1 L530.8,188.2 L530.9,188.4 L531.0,188.4 L531.1,188.4 L531.2,188.4 L531.4,188.4 L531.5,188.4 L531.6,188.4 L531.8,188.4 L531.9,188.4 L532.0,188.4 L532.1,188.4 L532.2,188.4 L532.4,188.4 L532.5,188.4 L532.6,188.4 L532.8,188.4 L532.9,188.4 L533.0,188.4 L533.1,188.4 L533.2,188.4 L533.4,188.4 L533.5,188.4 L533.6,188.4 L533.8,188.4 L533.9,188.4 L534.0,188.4 L534.1,188.4 L534.2,188.4 L534.4,188.4 L534.5,188.4 L534.6,188.4 L534.8,188.4 L534.9,188.4 L535.0,188.4 L535.1,188.4 L535.2,188.4 L535.4,188.4 L535.5,188.4 L535.6,188.4 L535.8,188.4 L535.9,188.4 L536.0,188.4 L536.1,188.4 L536.2,188.4 L536.4,188.4 L536.5,188.4 L536.6,188.4 L536.8,188.4 L536.9,188.4 L537.0,188.4 L537.1,188.4 L537.2,188.4 L537.4,188.4 L537.5,188.4 L537.6,188.4 L537.8,188.4 L537.9,188.4 L538.0,188.4 L538.1,188.4 L538.2,188.4 L538.4,188.4 L538.5,188.4 L538.6,188.4 L538.8,188.4 L538.9,188.4 L539.0,188.4 L539.1,188.4 L539.2,188.4 L539.4,188.4 L539.5,188.4 L539.6,188.4 L539.8,188.4 L539.9,188.4 L540.0,188.4 L540.1,188.4 L540.2,188.4 L540.4,188.4 L540.5,188.4 L540.6,188.4 L540.8,188.4 L540.9,188.4 L541.0,188.4 L541.1,188.4 L541.2,188.4 L541.4,188.4 L541.5,188.4" clip-path="url(#cp327)" fill="none" stroke="#2f88cf" stroke-width="0.8" stroke-linejoin="round"/>
<text x="434.5" y="15.6" text-anchor="middle" class="ti">Profile of azimuth spread function</text>
<text x="434.5" y="209.0" text-anchor="middle" class="l">Azimuth sampling cell</text>
<text transform="translate(305.4,101.0) rotate(-90)" text-anchor="middle" class="l" style="font-size:9.6px;letter-spacing:0.7px">dB</text>
<text x="35.0" y="249.7" textLength="14.7" lengthAdjust="spacingAndGlyphs" class="c">(<tspan>c</tspan>)</text>
<text x="53.5" y="249.7" textLength="43.8" lengthAdjust="spacingAndGlyphs" class="c">Profiles</text>
<text x="101.0" y="249.7" textLength="11.4" lengthAdjust="spacingAndGlyphs" class="c">of</text>
<text x="115.5" y="249.7" textLength="75.3" lengthAdjust="spacingAndGlyphs" class="c">range-spread</text>
<text x="194.2" y="249.7" textLength="48.8" lengthAdjust="spacingAndGlyphs" class="c">function</text>
<text x="315.3" y="249.7" textLength="17.0" lengthAdjust="spacingAndGlyphs" class="c">(<tspan>d</tspan>)</text>
<text x="336.3" y="249.7" textLength="43.6" lengthAdjust="spacingAndGlyphs" class="c">Profiles</text>
<text x="383.0" y="249.7" textLength="11.4" lengthAdjust="spacingAndGlyphs" class="c">of</text>
<text x="397.7" y="249.7" textLength="90.7" lengthAdjust="spacingAndGlyphs" class="c">azimuth-spread</text>
<text x="492.0" y="249.7" textLength="48.7" lengthAdjust="spacingAndGlyphs" class="c">function</text>
</svg>
</body></html>
